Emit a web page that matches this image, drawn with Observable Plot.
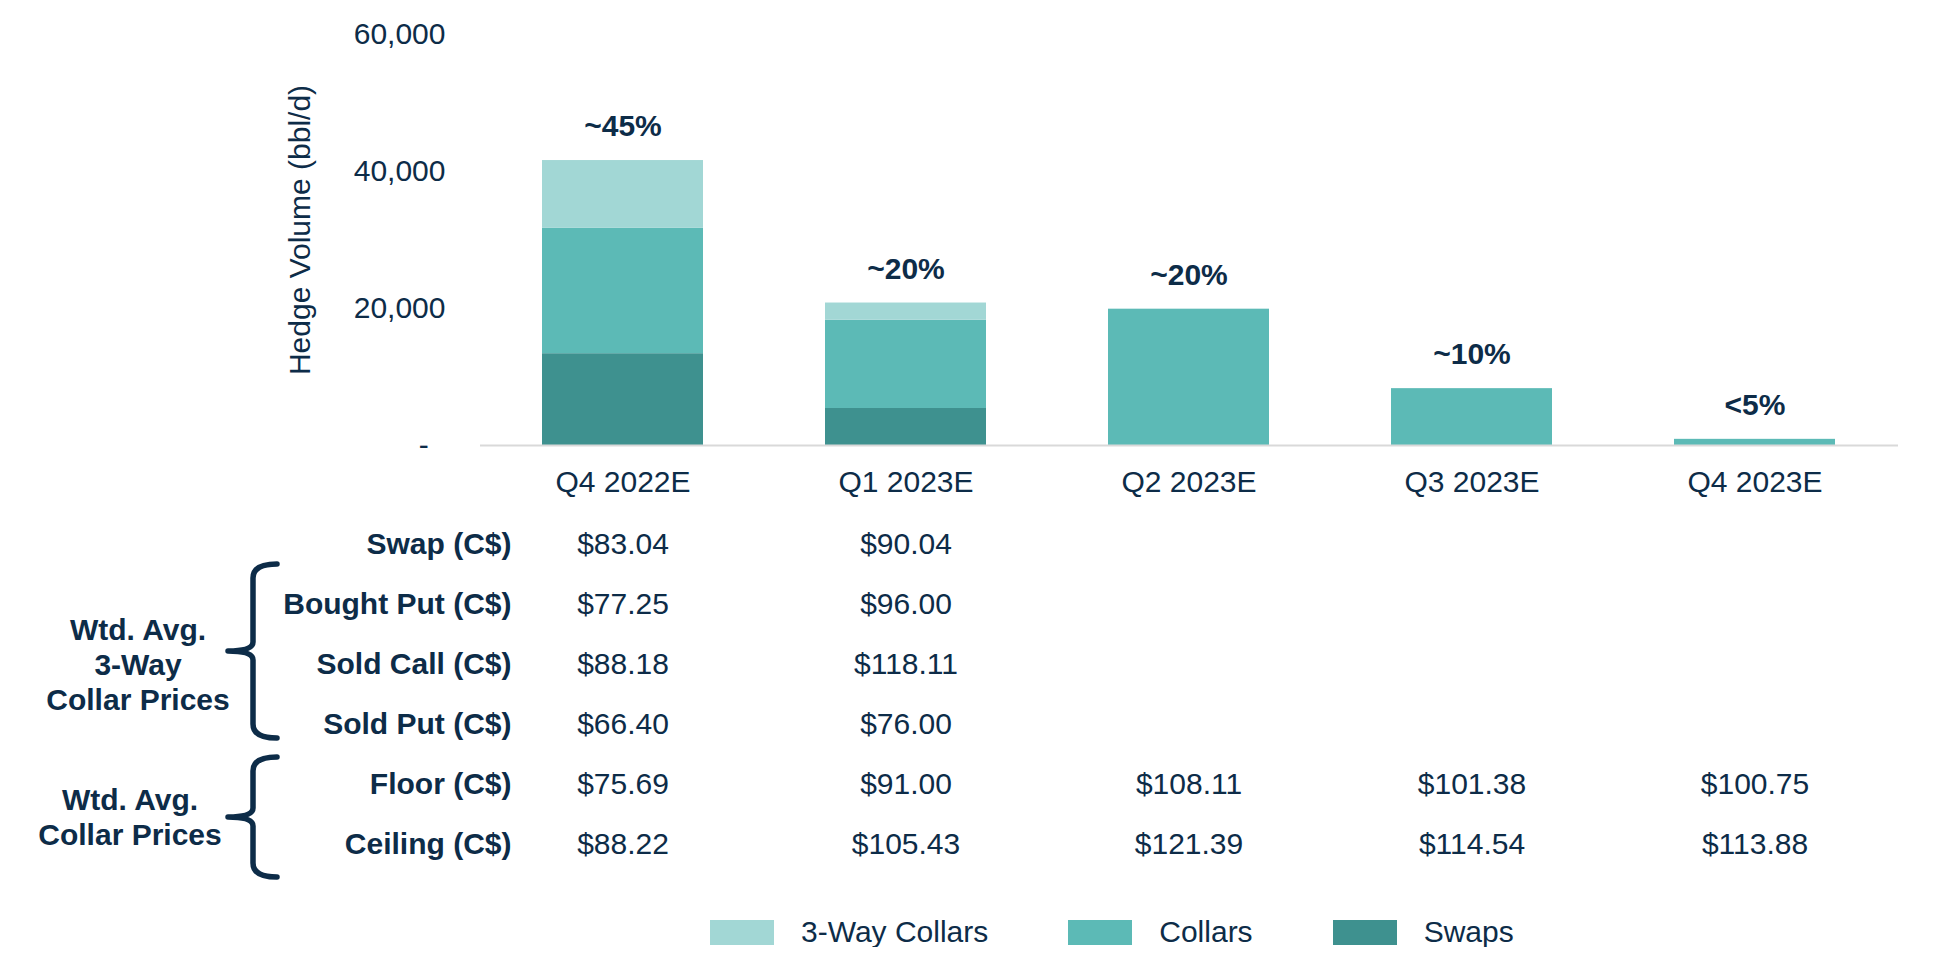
<!DOCTYPE html>
<html><head><meta charset="utf-8">
<script src="https://cdn.jsdelivr.net/npm/d3@7"></script>
<script src="https://cdn.jsdelivr.net/npm/@observablehq/plot@0.6"></script>
<style>
body{margin:0;background:#fff;font-family:"Liberation Sans",Arial,sans-serif;color:#0d2c48;}
#wrap{width:1955px;}
#wrap svg{display:block;}
.legend{display:flex;align-items:center;margin-left:710px;margin-top:27px;font-size:30px;height:30px;}
.item{display:flex;align-items:center;margin-right:80px;}
.sw{width:64px;height:25px;margin-right:27px;}
</style></head><body><div id="wrap"></div>
<script>
// ---- data ----
const quarters = ["Q4 2022E", "Q1 2023E", "Q2 2023E", "Q3 2023E", "Q4 2023E"];
const swaps    = [13400, 5400, 0, 0, 0];
const collars  = [18300, 12900, 19900, 8300, 900];
const threeWay = [9900, 2500, 0, 0, 0];
const hedgedPct = ["~45%", "~20%", "~20%", "~10%", "<5%"];
const seriesNames = ["Swaps", "Collars", "3-Way Collars"];
const legendOrder = ["3-Way Collars", "Collars", "Swaps"];
const seriesColors = ["#3e918f", "#5cbab6", "#a2d7d5"];
const yTicks = [0, 20000, 40000, 60000];
const yTitle = "Hedge Volume (bbl/d)";

const rowLabels = ["Swap (C$)", "Bought Put (C$)", "Sold Call (C$)", "Sold Put (C$)", "Floor (C$)", "Ceiling (C$)"];
const swapPrice    = [83.04, 90.04, null, null, null];
const boughtPut    = [77.25, 96.00, null, null, null];
const soldCall     = [88.18, 118.11, null, null, null];
const soldPut      = [66.40, 76.00, null, null, null];
const collarFloor  = [75.69, 91.00, 108.11, 101.38, 100.75];
const collarCeil   = [88.22, 105.43, 121.39, 114.54, 113.88];
const groupLabels = [["Wtd. Avg.", "3-Way", "Collar Prices"], ["Wtd. Avg.", "Collar Prices"]];
const groupRows = [["Bought Put (C$)", "Sold Call (C$)", "Sold Put (C$)"], ["Floor (C$)", "Ceiling (C$)"]];

// ---- derived tables ----
const seriesValues = [swaps, collars, threeWay];
const stackData = quarters.flatMap((q, i) =>
  seriesNames.map((s, k) => ({quarter: q, series: s, value: seriesValues[k][i]}))
).filter(d => d.value > 0);
const totals = quarters.map((q, i) => ({quarter: q, total: swaps[i] + collars[i] + threeWay[i], label: hedgedPct[i]}));
const rowValues = [swapPrice, boughtPut, soldCall, soldPut, collarFloor, collarCeil];
const cells = rowLabels.flatMap((r, i) => quarters.map((q, j) => ({row: r, quarter: q, v: rowValues[i][j]})))
  .filter(d => d.v != null);

const NAVY = "#0d2c48";
const FONT = '"Liberation Sans", Arial, sans-serif';
const xOpts = {type: "band", domain: quarters, paddingInner: 0.43, paddingOuter: 0.215};

// ---- bar chart ----
const bars = Plot.plot({
  width: 1955, height: 510,
  marginLeft: 480, marginRight: 57, marginTop: 34, marginBottom: 65,
  style: {fontFamily: FONT, fontSize: "30px", color: NAVY, background: "white", overflow: "visible"},
  x: {...xOpts, tickSize: 0, tickPadding: 25, label: null},
  y: {domain: [0, 60000], ticks: yTicks, tickSize: 0, tickPadding: 35, label: null,
      tickFormat: d => d === 0 ? "-\u00A0\u00A0" : d3.format(",")(d)},
  color: {domain: seriesNames, range: seriesColors},
  marks: [
    Plot.barY(stackData, {x: "quarter", y: "value", fill: "series", inset: 0}),
    Plot.ruleY([0], {stroke: "#d9d9d9", strokeWidth: 2}),
    Plot.text(totals, {x: "quarter", y: "total", text: "label", dy: -34, fontWeight: "bold", fill: NAVY}),
    Plot.text([yTitle], {text: d => d, frameAnchor: "left", textAnchor: "middle", rotate: -90, dx: -180, dy: -10, fill: NAVY})
  ]
});

// ---- price table ----
const table = Plot.plot({
  width: 1955, height: 380,
  marginLeft: 480, marginRight: 57, marginTop: 3, marginBottom: 14.6,
  style: {fontFamily: FONT, fontSize: "30px", color: NAVY, background: "white", overflow: "visible"},
  x: {...xOpts, axis: null},
  y: {type: "band", domain: rowLabels, padding: 0, axis: null},
  marks: [
    Plot.text(cells, {x: "quarter", y: "row", text: d => "$" + d.v.toFixed(2), fill: NAVY}),
    Plot.text(rowLabels, {y: d => d, text: d => d, frameAnchor: "left", dx: 31, textAnchor: "end", fontWeight: "bold", fill: NAVY})
  ]
});

// braces + group labels, positioned from the table's y scale
const ys = table.scale("y");
const yc = v => ys.apply(v) + (ys.bandwidth || 0) / 2;
const tsvg = d3.select(table);
const braceExt = [[-40, 14], [-27, 33]];
const labelShift = [13, 0];
const labelX = [138, 130];
groupRows.forEach((rows, g) => {
  const t = yc(rows[0]) + braceExt[g][0];
  const b = yc(rows[rows.length - 1]) + braceExt[g][1];
  const m = (t + b) / 2;
  const xv = 253, xh = 277, xt = 228;
  tsvg.append("path")
    .attr("d", `M${xh},${t} Q${xv},${t} ${xv},${t + 14} L${xv},${m - 9} Q${xv},${m} ${xt},${m} Q${xv},${m} ${xv},${m + 9} L${xv},${b - 14} Q${xv},${b} ${xh},${b}`)
    .attr("fill", "none").attr("stroke", NAVY).attr("stroke-width", 5.5)
    .attr("stroke-linecap", "round").attr("stroke-linejoin", "round");
  const lines = groupLabels[g];
  const c = m + labelShift[g];
  const txt = tsvg.append("text").attr("text-anchor", "middle").attr("font-weight", "bold")
    .attr("fill", NAVY).attr("font-family", FONT).attr("font-size", 30);
  lines.forEach((ln, i) => {
    txt.append("tspan").attr("x", labelX[g]).attr("y", c + (i - (lines.length - 1) / 2) * 35).attr("dy", "0.36em").text(ln);
  });
});

// ---- legend ----
const wrap = document.getElementById("wrap");
wrap.appendChild(bars);
wrap.appendChild(table);
const legend = document.createElement("div");
legend.className = "legend";
legendOrder.forEach(name => {
  const it = document.createElement("div");
  it.className = "item";
  const sw = document.createElement("div");
  sw.className = "sw";
  sw.style.background = seriesColors[seriesNames.indexOf(name)];
  const lab = document.createElement("span");
  lab.textContent = name;
  it.appendChild(sw); it.appendChild(lab);
  legend.appendChild(it);
});
wrap.appendChild(legend);
</script>
</body></html>
